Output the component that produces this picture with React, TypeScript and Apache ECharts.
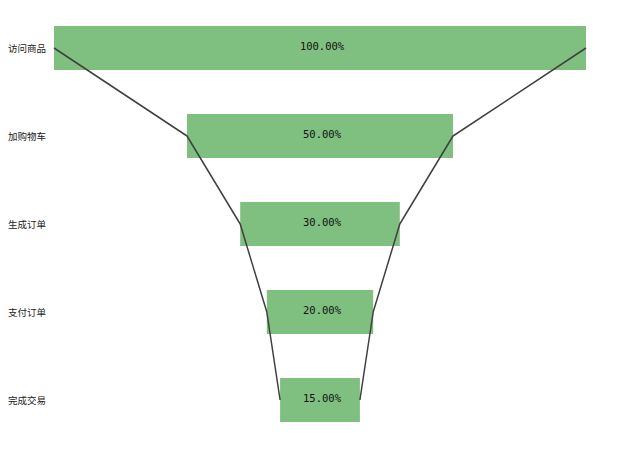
import React, { useEffect, useRef } from "react";
import * as echarts from "echarts";

const categories = ["访问商品", "加购物车", "生成订单", "支付订单", "完成交易"];
const values = [100, 50, 30, 20, 15];

export default function App() {
  const ref = useRef<HTMLDivElement>(null);
  useEffect(() => {
    if (!ref.current) return;
    const chart = echarts.init(ref.current, undefined, { renderer: "svg" });
    const offsets = values.map((v) => (100 - v) / 2);
    const rights = values.map((v) => (100 + v) / 2);
    chart.setOption({
      animation: false,
      grid: { left: 54, right: 33, top: 4, bottom: 8, containLabel: false },
      xAxis: { type: "value", min: 0, max: 100, show: false },
      yAxis: {
        type: "category",
        data: categories,
        inverse: true,
        axisLine: { show: false },
        axisTick: { show: false },
        splitLine: { show: false },
        axisLabel: {
          margin: 8,
          fontSize: 9.5,
          color: "#222",
          fontFamily: "Noto Sans CJK SC",
          padding: [4, 0, 0, 0],
        },
      },
      series: [
        {
          type: "bar",
          stack: "f",
          data: offsets,
          itemStyle: { color: "transparent" },
          barWidth: "50%",
          silent: true,
        },
        {
          type: "bar",
          stack: "f",
          data: values,
          barWidth: "50%",
          itemStyle: { color: "rgba(0,128,0,0.5)" },
          label: {
            show: true,
            position: "inside",
            color: "#111",
            fontSize: 10.5,
            fontFamily: "DejaVu Sans Mono",
            offset: [2, -2],
            formatter: (p: any) => p.value.toFixed(2) + "%",
          },
        },
        {
          type: "line",
          data: offsets.map((o, i) => [o, categories[i]]),
          symbol: "none",
          lineStyle: { color: "#404040", width: 1.5 },
        },
        {
          type: "line",
          data: rights.map((o, i) => [o, categories[i]]),
          symbol: "none",
          lineStyle: { color: "#404040", width: 1.5 },
        },
      ],
    });
    return () => chart.dispose();
  }, []);
  return (
    <div
      ref={ref}
      style={{ position: "absolute", left: 0, top: 0, width: 619, height: 452 }}
    />
  );
}
